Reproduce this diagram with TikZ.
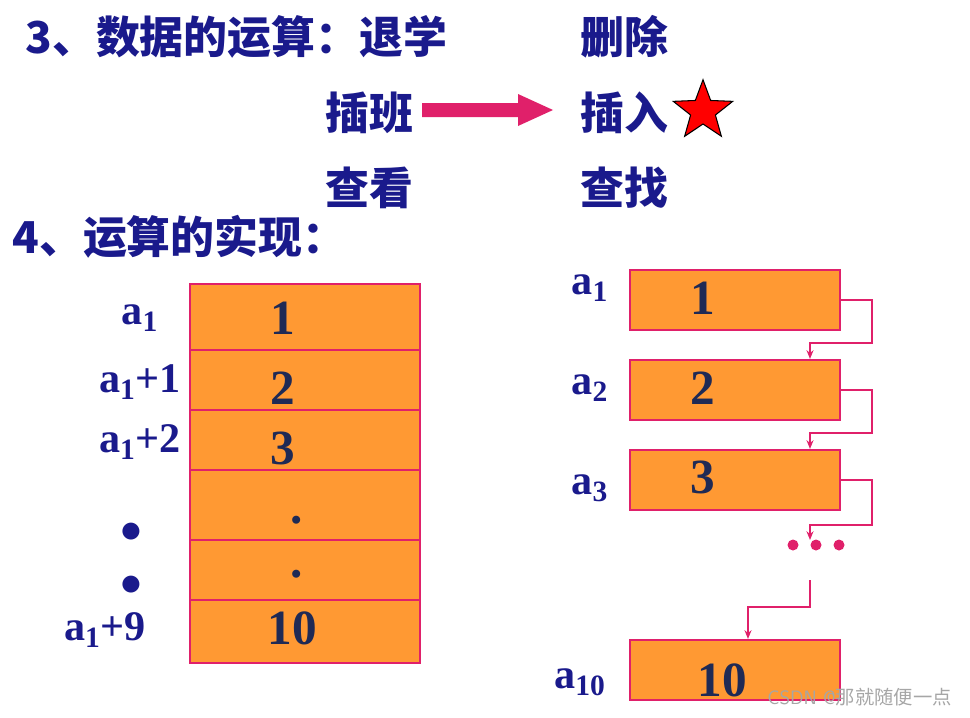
\documentclass[tikz,border=0pt]{standalone}
\usepackage{fontspec}
\setmainfont{Liberation Serif}
\newfontfamily\cjk{Noto Sans CJK SC}
\usetikzlibrary{shapes.geometric,arrows.meta}
\definecolor{navy}{HTML}{1A1A8C}
\definecolor{numc}{HTML}{1F2A55}
\definecolor{boxfill}{HTML}{FF9933}
\definecolor{boxline}{HTML}{E0206A}
\tikzset{
 cell/.style={draw=boxline,fill=boxfill,line width=1.2pt},
 num/.style={text=numc,font=\fontsize{28}{30}\selectfont\bfseries},
 lab/.style={text=navy,font=\fontsize{24}{26}\selectfont\bfseries},
 cn/.style={text=navy,font=\cjk\bfseries\fontsize{25}{28}\selectfont,anchor=west,inner sep=0},
 link/.style={draw=boxline,line width=0.8pt,-{Stealth[length=5pt,width=4pt]}},
}
\begin{document}
\begin{tikzpicture}[x=0.02cm,y=-0.02cm]
\useasboundingbox (0,0) rectangle (970,717);
\node[cn] (t1) at (25,37) {3、数据的运算：退学};
\node[cn] (t2) at (580,37) {删除};
\node[cn] (t3) at (325,113) {插班};
\node[cn] (t4) at (580,113) {插入};
\node[cn] (t5) at (325,188) {查看};
\node[cn] (t6) at (580,188) {查找};
\node[cn] (t7) at (12,237) {4、运算的实现：};
\draw[draw=none,fill=boxline] (422,103) -- (518,103) -- (518,94) -- (553,110) -- (518,126) -- (518,117) -- (422,117) -- cycle;
\node[star,star points=5,star point ratio=2.4,fill=red,draw=black,line width=0.6pt,minimum size=1.25cm,inner sep=0] (st) at (703,111) {};
% left table
\node[cell,minimum width=4.6cm,minimum height=1.32cm,inner sep=0] (r1) at (305,317) {};
\node[cell,minimum width=4.6cm,minimum height=1.2cm,inner sep=0] (r2) at (305,380) {};
\node[cell,minimum width=4.6cm,minimum height=1.2cm,inner sep=0] (r3) at (305,440) {};
\node[cell,minimum width=4.6cm,minimum height=1.4cm,inner sep=0] (r4) at (305,505) {};
\node[cell,minimum width=4.6cm,minimum height=1.2cm,inner sep=0] (r5) at (305,570) {};
\node[cell,minimum width=4.6cm,minimum height=1.26cm,inner sep=0] (r6) at (305,631.5) {};
\node[num] (n1) at (283,318) {1};
\node[num] (n2) at (283,388) {2};
\node[num] (n3) at (283,448) {3};
\node[num] (n4) at (297,520) {.};
\node[num] (n5) at (297,574) {.};
\node[num] (n6) at (292,628) {10};
\node[lab] (l1) at (140,318) {a$_\mathbf{1}$};
\node[lab] (l2) at (140,382) {a$_\mathbf{1}$+1};
\node[lab] (l3) at (140,442) {a$_\mathbf{1}$+2};
\node[lab] (l4) at (131,533) {$\bullet$};
\node[lab] (l5) at (131,586) {$\bullet$};
\node[lab] (l6) at (105,630) {a$_\mathbf{1}$+9};
% right list
\node[cell,minimum width=4.2cm,minimum height=1.2cm,inner sep=0] (b1) at (735,300) {};
\node[cell,minimum width=4.2cm,minimum height=1.2cm,inner sep=0] (b2) at (735,390) {};
\node[cell,minimum width=4.2cm,minimum height=1.2cm,inner sep=0] (b3) at (735,480) {};
\node[cell,minimum width=4.2cm,minimum height=1.2cm,inner sep=0] (b4) at (735,670) {};
\node[num] (m1) at (703,298) {1};
\node[num] (m2) at (703,388) {2};
\node[num] (m3) at (703,477) {3};
\node[num] (m4) at (722,680) {10};
\node[lab] (k1) at (590,288) {a$_\mathbf{1}$};
\node[lab] (k2) at (590,388) {a$_\mathbf{2}$};
\node[lab] (k3) at (590,488) {a$_\mathbf{3}$};
\node[lab] (k4) at (580,682) {a$_\mathbf{10}$};
\foreach \x [count=\i] in {793,816,839} \fill[boxline] (\x,545) circle (5.5) coordinate (d\i);
\coordinate (dt) at (810,540);
\coordinate (ds) at (810,580);
\draw[link] (b1.east) -| (872,343) -| (b2.north -| 810,0);
\draw[link] (b2.east) -| (872,433) -| (b3.north -| 810,0);
\draw[link] (b3.east) -| (872,525) -| (dt);
\draw[link] (ds) |- (748,607) -- (b4.north -| 748,0);
\node[text=gray!70,font=\sffamily\fontsize{11}{12}\selectfont,anchor=east] (wm) at (958,697) {CSDN @\cjk 那就随便一点};
\end{tikzpicture}
\end{document}
